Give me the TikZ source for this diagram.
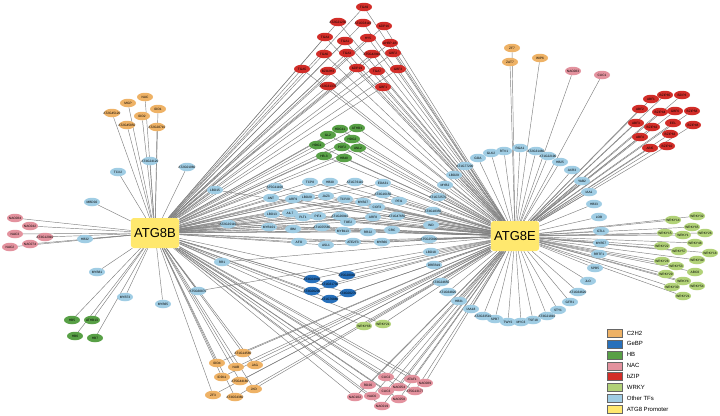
\documentclass[tikz,border=0pt]{standalone}
\usepackage{fontspec}
\setmainfont{Liberation Sans}
\usetikzlibrary{shapes.geometric}
\pgfdeclarelayer{background}
\pgfsetlayers{background,main}
\definecolor{cc2h2}{RGB}{238,178,102}
\definecolor{cgebp}{RGB}{39,112,187}
\definecolor{chb}{RGB}{88,160,70}
\definecolor{cnac}{RGB}{227,146,158}
\definecolor{cbzip}{RGB}{210,45,40}
\definecolor{cwrky}{RGB}{178,210,120}
\definecolor{cother}{RGB}{160,205,228}
\definecolor{cprom}{RGB}{255,232,110}
\tikzset{
 tf/.style={ellipse,inner sep=0pt,minimum width=16pt,minimum height=8.5pt,font=\fontsize{3.2}{3.2}\selectfont},
 c2h2/.style={tf,fill=cc2h2},gebp/.style={tf,fill=cgebp},hb/.style={tf,fill=chb},
 nac/.style={tf,fill=cnac},bzip/.style={tf,fill=cbzip},wrky/.style={tf,fill=cwrky},
 other/.style={tf,fill=cother},
 hub/.style={rectangle,rounded corners=3pt,fill=cprom,minimum width=48pt,minimum height=30pt,font=\fontsize{13}{13}\selectfont},
 edge/.style={draw=black!50,line width=0.45pt},
 leg/.style={draw=black!60,line width=0.3pt,minimum width=15pt,minimum height=8pt,inner sep=0pt},
 legt/.style={anchor=west,font=\fontsize{6}{6}\selectfont,inner sep=1pt}
}
\newcommand{\tfl}[1]{\makebox[0pt]{#1}}
\begin{document}
\begin{tikzpicture}[x=1pt,y=-1pt]
\useasboundingbox (0,0) rectangle (720,415);
\node[hub] (B) at (155,233) {ATG8B};
\node[hub] (E) at (515,236) {ATG8E};
% nodes linked to ATG8B only
\foreach \x/\y/\s/\t in {
128/103/c2h2/MGP,145/97/c2h2/NUC,158/109/c2h2/IDD1,142/116/c2h2/IDD2,112/113/c2h2/AT2G45120,127/125/c2h2/AT2G45850,157/127/c2h2/AT2G28710,
150/161/other/AT3G24120,187/167/other/AT2G01060,118/172/other/TCX2,92/202/other/MBD02,
15/218/nac/NAC084,30/226/nac/NAC042,15/234/nac/NAC3,45/237/nac/AT3G12910,10/247/nac/NAC2,30/244/nac/NAC074,85/239/other/HB32,
97/272/other/MYB81,125/297/other/MYB73,163/304/other/MYB65,
72/320/hb/HB5,92/320/hb/ATHB13,75/336/hb/HB6,95/338/hb/HB7}
{\node[\s] (n\x-\y) at (\x,\y) {\tfl{\t}};
 \begin{pgfonlayer}{background}\draw[edge] (B) -- (n\x-\y);\end{pgfonlayer}}
% nodes linked to ATG8E only
\foreach \x/\y/\s/\t in {
478/158/other/GOA,491/153/other/GLK2,504/151/other/RTV1,520/148/other/RGA1,536/151/other/AT2G31460,548/156/other/AT1G22190,560/162/other/HB25,572/170/other/AXR3,582/181/other/YAB2,589/192/other/IAA1,594/204/other/HB33,599/217/other/LOB,601/231/other/GTL1,601/243/other/MYB57,599/254/other/RRTF1,595/268/other/SPB5,588/281/other/JLO,578/292/other/AT1G64620,570/302/other/GFR1,558/310/other/STY1,547/316/other/AT3G21810,533/320/other/TSF18,521/322/other/MYC3,508/322/other/TWY2,495/319/other/SPB7,483/316/other/AT2G33510,471/309/other/IAA18,459/301/other/HB31,448/292/other/AT1G64820,441/282/other/AT3G24650,434/265/other/DREB19,431/252/other/LBD18,429/239/other/AT5G25890,431/225/other/IND,433/211/other/AT3G18350,438/197/other/AT1G72570,445/185/other/MYB2,454/175/other/LBD29,465/166/other/AT1G77200,
651/99/bzip/ABF1,665/95/bzip/BZIP65,682/95/bzip/BZIP3,640/109/bzip/ABF2,660/112/bzip/BZIP44,675/111/bzip/GBF6,692/111/bzip/BZIP58,636/123/bzip/ABF3,652/127/bzip/BZIP42,673/123/bzip/EEL,693/125/bzip/BZIP48,640/137/bzip/ABF4,670/134/bzip/BZIP63,650/148/bzip/ABI5,667/146/bzip/BZIP10,
673/220/wrky/WRKY14,697/216/wrky/WRKY32,692/227/wrky/WRKY65,665/233/wrky/WRKY15,683/235/wrky/WRKY1,705/233/wrky/WRKY26,695/243/wrky/WRKY48,662/246/wrky/WRKY22,679/251/wrky/WRKY57,710/253/wrky/WRKY18,697/260/wrky/WRKY40,662/261/wrky/WRKY28,676/266/wrky/WRKY53,666/274/wrky/WRKY29,695/272/wrky/ABO3,683/281/wrky/WRKY4,672/287/wrky/WRKY30,697/286/wrky/WRKY54,683/296/wrky/WRKY21,
512/48/c2h2/ZF7,510/62/c2h2/ZAT7,540/58/c2h2/WIP6,573/71/nac/NAC083,602/75/nac/CUC1}
{\node[\s] (n\x-\y) at (\x,\y) {\tfl{\t}};
 \begin{pgfonlayer}{background}\draw[edge] (E) -- (n\x-\y);\end{pgfonlayer}}
% nodes linked to both
\foreach \x/\y/\s/\t in {
215/190/other/LBD15,275/187/other/AT5G11100,310/182/other/TCP8,330/182/other/HB30,355/182/other/AT1G76110,293/199/other/ARF9,271/198/other/ANT,290/213/other/AIL7,307/197/other/LBD20,326/196/other/JAZ3,345/199/other/TCP20,272/214/other/LBD13,318/216/other/PIF4,340/216/other/AT1G26910,303/217/other/PLT1,348/222/other/TOE2,228/224/other/AT2G20110,269/227/other/MYB101,293/229/other/IBM,322/227/other/AT1G55580,343/231/other/MYB113,299/242/other/AFO,326/245/other/ASL1,353/242/other/ATE2F3,222/262/other/RR1,198/291/other/AT5G60870,
383/183/other/EDA31,383/194/other/AT3G16150,399/201/other/PEI1,377/207/other/COF3,363/202/other/MYB27,373/217/other/ARF8,397/216/other/AT1G47650,368/232/other/RR22,392/230/other/CRC,382/242/other/MYB66,
340/129/hb/HDG11,357/128/hb/ATHB1,328/135/hb/GL2,352/139/hb/HDG2,317/145/hb/HDG1,342/147/hb/PDF2,358/148/hb/ANL2,324/156/hb/HB-3,344/158/hb/HB40,
312/279/gebp/AT3G04930,347/275/gebp/AT5G28040,330/284/gebp/AT1G61730,312/291/gebp/AT3G06200,348/293/gebp/AT4G00270,330/299/gebp/AT1G76880,
364/7/bzip/TGA9,338/22/bzip/AT2G21230,363/23/bzip/AT1G58110,384/26/bzip/bZIP16,325/37/bzip/TGA4,345/41/bzip/TGA1,368/38/bzip/HY5,390/43/bzip/AHBP-1B,324/54/bzip/TGA6,347/53/bzip/TGA3,372/54/bzip/AT5G42910,393/53/bzip/GBF2,302/69/bzip/TGA5,328/71/bzip/BZO2H3,357/68/bzip/bZIP19,377/71/bzip/TGA7,398/69/bzip/GBF3,328/86/bzip/AT2G31370,383/87/bzip/GBF1,
364/326/wrky/WRKY66,383/324/wrky/WRKY21,
243/353/c2h2/AT1G14580,217/363/c2h2/IDD4,236/367/c2h2/NUB,255/365/c2h2/JAG,222/377/c2h2/IDD11,240/381/c2h2/AT5G44160,254/389/c2h2/JKD,213/395/c2h2/ZF3,235/397/c2h2/AT3G54360,
386/377/nac/CUC2,412/379/nac/ATAF1,425/383/nac/NAC089,368/385/nac/RD26,399/387/nac/NAC054,386/391/nac/CUC3,415/391/nac/AT5G13177,355/397/nac/NAC102,372/396/nac/NAC6,399/399/nac/NAC058,382/406/nac/NAC019}
{\node[\s] (n\x-\y) at (\x,\y) {\tfl{\t}};
 \begin{pgfonlayer}{background}\draw[edge] (B) -- (n\x-\y) -- (E);\end{pgfonlayer}}
% legend
\foreach \i/\c/\t in {0/cc2h2/C2H2,1/cgebp/GeBP,2/chb/HB,3/cnac/NAC,4/cbzip/bZIP,5/cwrky/WRKY,6/cother/Other TFs,7/cprom/ATG8 Promoter}
{\node[leg,fill=\c] (l\i) at (615,333+10.9*\i) {};
 \node[legt] at ([xshift=3pt]l\i.east) {\t};}
\end{tikzpicture}
\end{document}
